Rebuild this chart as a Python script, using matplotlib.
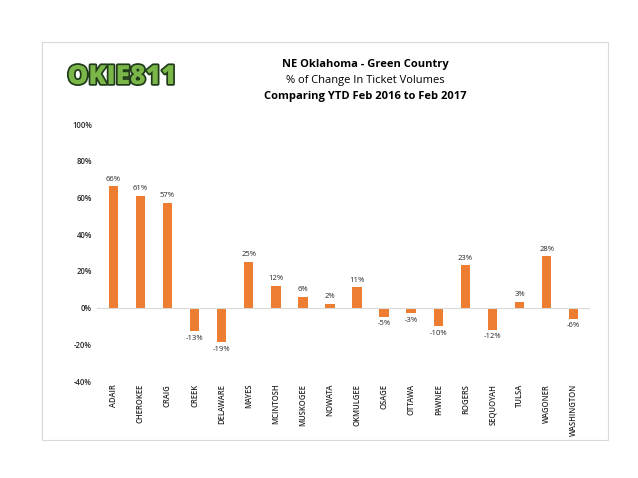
import matplotlib
matplotlib.use("Agg")
import matplotlib.pyplot as plt
import matplotlib.patheffects as pe
from matplotlib.patches import Rectangle

counties = ["ADAIR","CHEROKEE","CRAIG","CREEK","DELAWARE","MAYES","MCINTOSH","MUSKOGEE","NOWATA",
            "OKMULGEE","OSAGE","OTTAWA","PAWNEE","ROGERS","SEQUOYAH","TULSA","WAGONER","WASHINGTON"]
values = [66,61,57,-13,-19,25,12,6,2,11,-5,-3,-10,23,-12,3,28,-6]
yticks = [-40,-20,0,20,40,60,80,100]

plt.rcParams['font.family'] = ['Open Sans', 'DejaVu Sans']
fig = plt.figure(figsize=(6.38,4.78), dpi=100)
fig.patches.append(Rectangle((42/638, 1-440/478), 566/638, 398/478, transform=fig.transFigure,
                             fill=False, edgecolor='#d9d9d9', lw=0.8))
ax = fig.add_axes([97/638, 1-381/478, 493/638, 257/478])
x = range(len(counties))
ax.bar(x, values, width=0.35, color='#ed7d31')
tc = '#262626'
for i, v in enumerate(values):
    ax.text(i, v + (2 if v >= 0 else -2), f"{v}%", ha='center', va='bottom' if v >= 0 else 'top',
            fontsize=5.5, color=tc)
ax.set_ylim(-40, 100)
ax.set_xlim(-0.6, len(counties)-0.4)
ax.set_yticks(yticks)
ax.set_yticklabels([f"{t}%" for t in yticks], fontsize=5.5, color=tc, fontweight='semibold')
ax.set_xticks(list(x))
ax.set_xticklabels([])
for i, c in enumerate(counties):
    ax.text(i, -41.5, c, rotation=90, ha='center', va='top', fontsize=5.5, color=tc, fontweight='semibold')
for s in ax.spines.values():
    s.set_visible(False)
ax.axhline(0, color='#d9d9d9', lw=0.8)
ax.tick_params(length=0)

fig.text(365/638, 1-65/478, "NE Oklahoma - Green Country", ha='center', va='center', fontsize=8, fontweight='bold')
fig.text(365/638, 1-80/478, "% of Change In Ticket Volumes", ha='center', va='center', fontsize=8)
fig.text(365/638, 1-96/478, "Comparing YTD Feb 2016 to Feb 2017", ha='center', va='center', fontsize=8, fontweight='bold')
fig.text(122/638, 1-77/478, "OKIE811", ha='center', va='center', fontsize=19, fontweight='heavy',
         color='#7ab648', path_effects=[pe.withStroke(linewidth=2.5, foreground='#1f3b1a')])
fig.savefig("out.png", dpi=100)
